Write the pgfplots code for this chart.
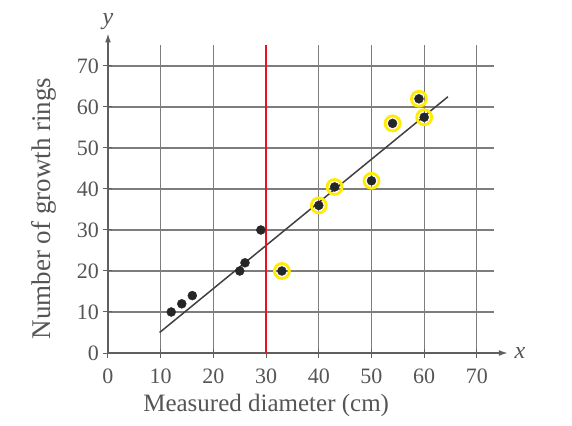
\documentclass[border=0pt]{standalone}
\usepackage{pgfplots}
\pgfplotsset{compat=1.18}
\usepackage{fontspec}
\setmainfont{Liberation Serif}
\usetikzlibrary{arrows.meta}
\definecolor{txt}{RGB}{85,85,85}
\definecolor{gridc}{RGB}{125,125,125}
\definecolor{axc}{RGB}{95,95,95}
\definecolor{hl}{RGB}{255,236,0}
\definecolor{redl}{RGB}{228,20,30}
\begin{document}
\begin{tikzpicture}
\useasboundingbox (-108pt,-72pt) rectangle (464pt,353pt);
\begin{axis}[
  at={(0,0)}, anchor=south west,
  x=5.27pt, y=4.1pt,
  xmin=0, xmax=73.2, ymin=0, ymax=75,
  axis lines=left,
  clip=false,
  x axis line style={draw=axc, line width=1.4pt, -{Latex[length=9pt,width=6pt]}, shorten >=-14pt},
  y axis line style={draw=axc, line width=1.4pt, -{Latex[length=9pt,width=6pt]}, shorten >=-12pt},
  xtick={0,10,...,70}, ytick={0,10,...,70},
  grid=major,
  major grid style={draw=gridc, line width=1.1pt},
  major tick length=9pt, tick align=center,
  tick style={draw=axc, line width=1pt},
  /pgf/number format/assume math mode=true,
  tick label style={font=\fontsize{22}{22}\selectfont, text=txt},
  xticklabel style={yshift=-8pt},
  yticklabel style={xshift=-1pt},
  xlabel={Measured diameter (cm)},
  ylabel={Number of growth rings},
  xlabel style={at={(ticklabel cs:0.41)}, anchor=north, font=\fontsize{25}{25}\selectfont, text=txt, yshift=-3pt},
  ylabel style={at={(ticklabel cs:0.47)}, font=\fontsize{27}{27}\selectfont, text=txt, yshift=14pt},
]
% fitted line
\addplot[black!75, line width=1.5pt] coordinates {(9.8,5) (64.5,62.5)};
% red divider
\addplot[redl, line width=2.2pt] coordinates {(30,0) (30,75)};
% yellow highlight rings
\addplot[only marks, mark=o, mark size=7.5pt, hl, line width=2.8pt]
  coordinates {(33,20) (40,36) (43,40.5) (50,42) (54,56) (59,62) (60,57.5)};
% data points
\addplot[only marks, mark=*, mark size=4.5pt, black!85]
  coordinates {(12,10) (14,12) (16,14) (25,20) (26,22) (29,30)
               (33,20) (40,36) (43,40.5) (50,42) (54,56) (59,62) (60,57.5)};
\node[anchor=west, font=\fontsize{24}{24}\selectfont\itshape, text=txt] at (axis cs:76.5,0) {x};
\node[anchor=south, font=\fontsize{24}{24}\selectfont\itshape, text=txt] at (axis cs:0,78) {y};
\end{axis}
\end{tikzpicture}
\end{document}
